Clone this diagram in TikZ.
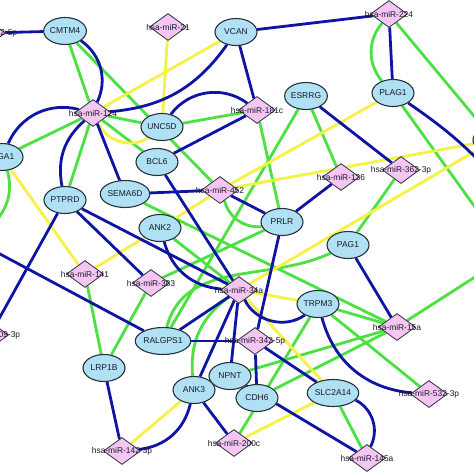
\documentclass[tikz,border=0pt]{standalone}
\usepackage{fontspec}
\setmainfont{Liberation Sans}
\usetikzlibrary{shapes.geometric}
\pgfdeclarelayer{bg}
\pgfsetlayers{bg,main}
\definecolor{eb}{RGB}{15,20,165}
\definecolor{eg}{RGB}{75,225,65}
\definecolor{ey}{RGB}{245,242,70}
\definecolor{gfill}{RGB}{176,224,243}
\definecolor{mfill}{RGB}{245,198,243}
\definecolor{ol}{RGB}{40,50,60}
\definecolor{tx}{RGB}{25,25,40}
\begin{document}
\begin{tikzpicture}[x=1pt,y=1pt,
  gene/.style={ellipse, draw=ol, line width=1.1pt, fill=gfill, minimum width=42pt, minimum height=27pt, inner sep=0pt, font=\fontsize{8.5}{10}\selectfont, text=tx},
  mir/.style={diamond, draw=ol, line width=0.8pt, fill=mfill, minimum width=37pt, minimum height=27pt, inner sep=0pt},
  lb/.style={font=\fontsize{8.4}{10}\selectfont, text=tx, inner sep=0pt},
  be/.style={draw=eb, line width=2.8pt},
  ge/.style={draw=eg, line width=2.8pt},
  ye/.style={draw=ey, line width=2.8pt}]
\useasboundingbox (0,0) rectangle (474,-474);
% genes
\node[gene] (CMTM4) at (65,-31) {CMTM4};
\node[gene] (VCAN) at (236,-32) {VCAN};
\node[gene] (ESRRG) at (306,-96) {ESRRG};
\node[gene] (PLAG1) at (393,-93) {PLAG1};
\node[gene] (UNC5D) at (162,-127) {UNC5D};
\node[gene] (BCL6) at (157,-162) {BCL6};
\node[gene] (SEMA6D) at (125,-194) {SEMA6D};
\node[gene] (PTPRD) at (65,-200) {PTPRD};
\node[gene] (ANK2) at (160,-228) {ANK2};
\node[gene] (PRLR) at (282,-222) {PRLR};
\node[gene] (PAG1) at (348,-245) {PAG1};
\node[gene] (TRPM3) at (318,-304) {TRPM3};
\node[gene] (RALGPS1) at (163,-341) {RALGPS1};
\node[gene] (LRP1B) at (104,-368) {LRP1B};
\node[gene] (NPNT) at (230,-376) {NPNT};
\node[gene] (ANK3) at (194,-390) {ANK3};
\node[gene] (CDH6) at (257,-398) {CDH6};
\node[gene] (SLC2A14) at (333,-393) {SLC2A14};
\node[gene] (A1) at (2,-157) {ITGA1};
\node[gene] (Rn) at (494,-140) {};
% mirnas
\node[mir] (L5p) at (-13,-33) {};
\node[mir] (m21) at (168,-27) {};
\node[mir] (m224) at (389,-14) {};
\node[mir] (m124) at (93,-113) {};
\node[mir] (m181c) at (257,-110) {};
\node[mir] (m136) at (341,-177) {};
\node[mir] (m362) at (401,-170) {};
\node[mir] (m452) at (220,-190) {};
\node[mir] (m141) at (85,-274) {};
\node[mir] (m383) at (151,-283) {};
\node[mir] (m34a) at (239,-290) {};
\node[mir] (m342) at (255,-341) {};
\node[mir] (m15a) at (397,-327) {};
\node[mir] (m532) at (429,-394) {};
\node[mir] (m142) at (122,-451) {};
\node[mir] (m200c) at (234,-443) {};
\node[mir] (m145a) at (367,-458) {};
\node[mir] (L093p) at (-10,-335) {};
% labels
\node[lb] (tL5p) at (L5p) {hsa-miR-202-5p};
\node[lb] (t21) at (m21) {hsa-miR-21};
\node[lb] (t224) at (m224) {hsa-miR-224};
\node[lb] (t124) at (m124) {hsa-miR-124};
\node[lb] (t181c) at (m181c) {hsa-miR-181c};
\node[lb] (t136) at (m136) {hsa-miR-136};
\node[lb] (t362) at (m362) {hsa-miR-362-3p};
\node[lb] (t452) at (m452) {hsa-miR-452};
\node[lb] (t141) at (m141) {hsa-miR-141};
\node[lb] (t383) at (m383) {hsa-miR-383};
\node[lb] (t34a) at (m34a) {hsa-miR-34a};
\node[lb] (t342) at (m342) {hsa-miR-342-5p};
\node[lb] (t15a) at (m15a) {hsa-miR-15a};
\node[lb] (t532) at (m532) {hsa-miR-532-3p};
\node[lb] (t142) at (m142) {hsa-miR-142-3p};
\node[lb] (t200c) at (m200c) {hsa-miR-200c};
\node[lb] (t145a) at (m145a) {hsa-miR-145a};
\node[lb] (tL093p) at (L093p) {hsa-miR-409-3p};
% off-frame ends
\coordinate (oL1) at (-60,-222);
\coordinate (oL2) at (-8,-225);
\coordinate (oR1) at (510,-196);
\coordinate (oR2) at (495,-235);
\coordinate (oR3) at (500,-261);
\begin{pgfonlayer}{bg}
\fill[white] (0,0) rectangle (474,-474);
% green
\draw[ge] (CMTM4) -- (m124);
\draw[ge] (CMTM4) -- (m452);
\draw[ge] (m224) to[bend right=40] (PLAG1);
\draw[ge] (m224) -- (Rn);
\draw[ge] (PLAG1) -- (oR2);
\draw[ge] (ESRRG) -- (m136);
\draw[ge] (ESRRG) -- (RALGPS1);
\draw[ge] (m124) -- (A1);
\draw[ge] (m124) -- (UNC5D);
\draw[ge] (m124) -- (BCL6);
\draw[ge] (m124) -- (PTPRD);
\draw[ge] (UNC5D) -- (m181c);
\draw[ge] (m181c) -- (PRLR);
\draw[ge] (A1) to[bend left=30] (oL2);
\draw[ge] (SEMA6D) -- (m15a);
\draw[ge] (m452) to[bend right=40] (PRLR);
\draw[ge] (PRLR) -- (m383);
\draw[ge] (ANK2) -- (m34a);
\draw[ge] (PAG1) -- (m362);
\draw[ge] (RALGPS1) to[out=75,in=205] (PAG1);
\draw[ge] (m141) -- (LRP1B);
\draw[ge] (m383) -- (LRP1B);
\draw[ge] (TRPM3) -- (m15a);
\draw[ge] (m15a) -- (oR3);
\draw[ge] (TRPM3) -- (m200c);
\draw[ge] (TRPM3) -- (m532);
\draw[ge] (NPNT) -- (m15a);
\draw[ge] (CDH6) -- (m15a);
\draw[ge] (SLC2A14) -- (m145a);
\draw[ge] (ANK3) to[bend left=30] (m34a);
% yellow
\draw[ye] (m21) -- (UNC5D);
\draw[ye] (m124) -- (VCAN);
\draw[ye] (m124) to[bend right=50] (UNC5D);
\draw[ye] (PLAG1) -- (m452);
\draw[ye] (m452) -- (Rn);
\draw[ye] (m34a) -- (Rn);
\draw[ye] (A1) -- (m141);
\draw[ye] (m141) -- (ANK2);
\draw[ye] (m452) -- (ANK2);
\draw[ye] (m34a) -- (TRPM3);
\draw[ye] (m34a) -- (SLC2A14);
\draw[ye] (m200c) -- (SLC2A14);
\draw[ye] (ANK3) -- (m142);
% blue
\draw[be] (CMTM4) -- (L5p);
\draw[be] (CMTM4) to[bend left=40] (m124);
\draw[be] (VCAN) -- (m224);
\draw[be] (VCAN) -- (m181c);
\draw[be] (m124) to[bend right=25] (VCAN);
\draw[be] (m224) -- (PLAG1);
\draw[be] (ESRRG) -- (m362);
\draw[be] (PLAG1) to[bend left=8] (oR1);
\draw[be] (m124) to[bend right=40] (A1);
\draw[be] (m124) to[bend right=30] (PTPRD);
\draw[be] (m124) -- (SEMA6D);
\draw[be] (UNC5D) to[bend left=45] (m181c);
\draw[be] (BCL6) -- (m181c);
\draw[be] (SEMA6D) -- (m452);
\draw[be] (BCL6) -- (m34a);
\draw[be] (PTPRD) -- (m383);
\draw[be] (PTPRD) -- (m34a);
\draw[be] (PTPRD) -- (L093p);
\draw[be] (m452) -- (PRLR);
\draw[be] (m136) -- (PRLR);
\draw[be] (ANK2) to[bend right=35] (m34a);
\draw[be] (oL1) -- (RALGPS1);
\draw[be] (PRLR) -- (m342);
\draw[be] (PAG1) -- (m15a);
\draw[be] (TRPM3) to[bend left=50] (m34a);
\draw[be] (TRPM3) to[bend right=35] (m532);
\draw[be] (RALGPS1) -- (m342);
\draw[be] (RALGPS1) -- (m34a);
\draw[be] (m34a) -- (NPNT);
\draw[be] (m34a) -- (ANK3);
\draw[be] (m342) -- (CDH6);
\draw[be] (m342) -- (SLC2A14);
\draw[be] (NPNT) -- (m145a);
\draw[be] (ANK3) -- (m200c);
\draw[be] (ANK3) to[bend left=35] (m142);
\draw[be] (LRP1B) -- (m142);
\draw[be] (SLC2A14) to[bend left=45] (m145a);
\end{pgfonlayer}
\end{tikzpicture}
\end{document}
